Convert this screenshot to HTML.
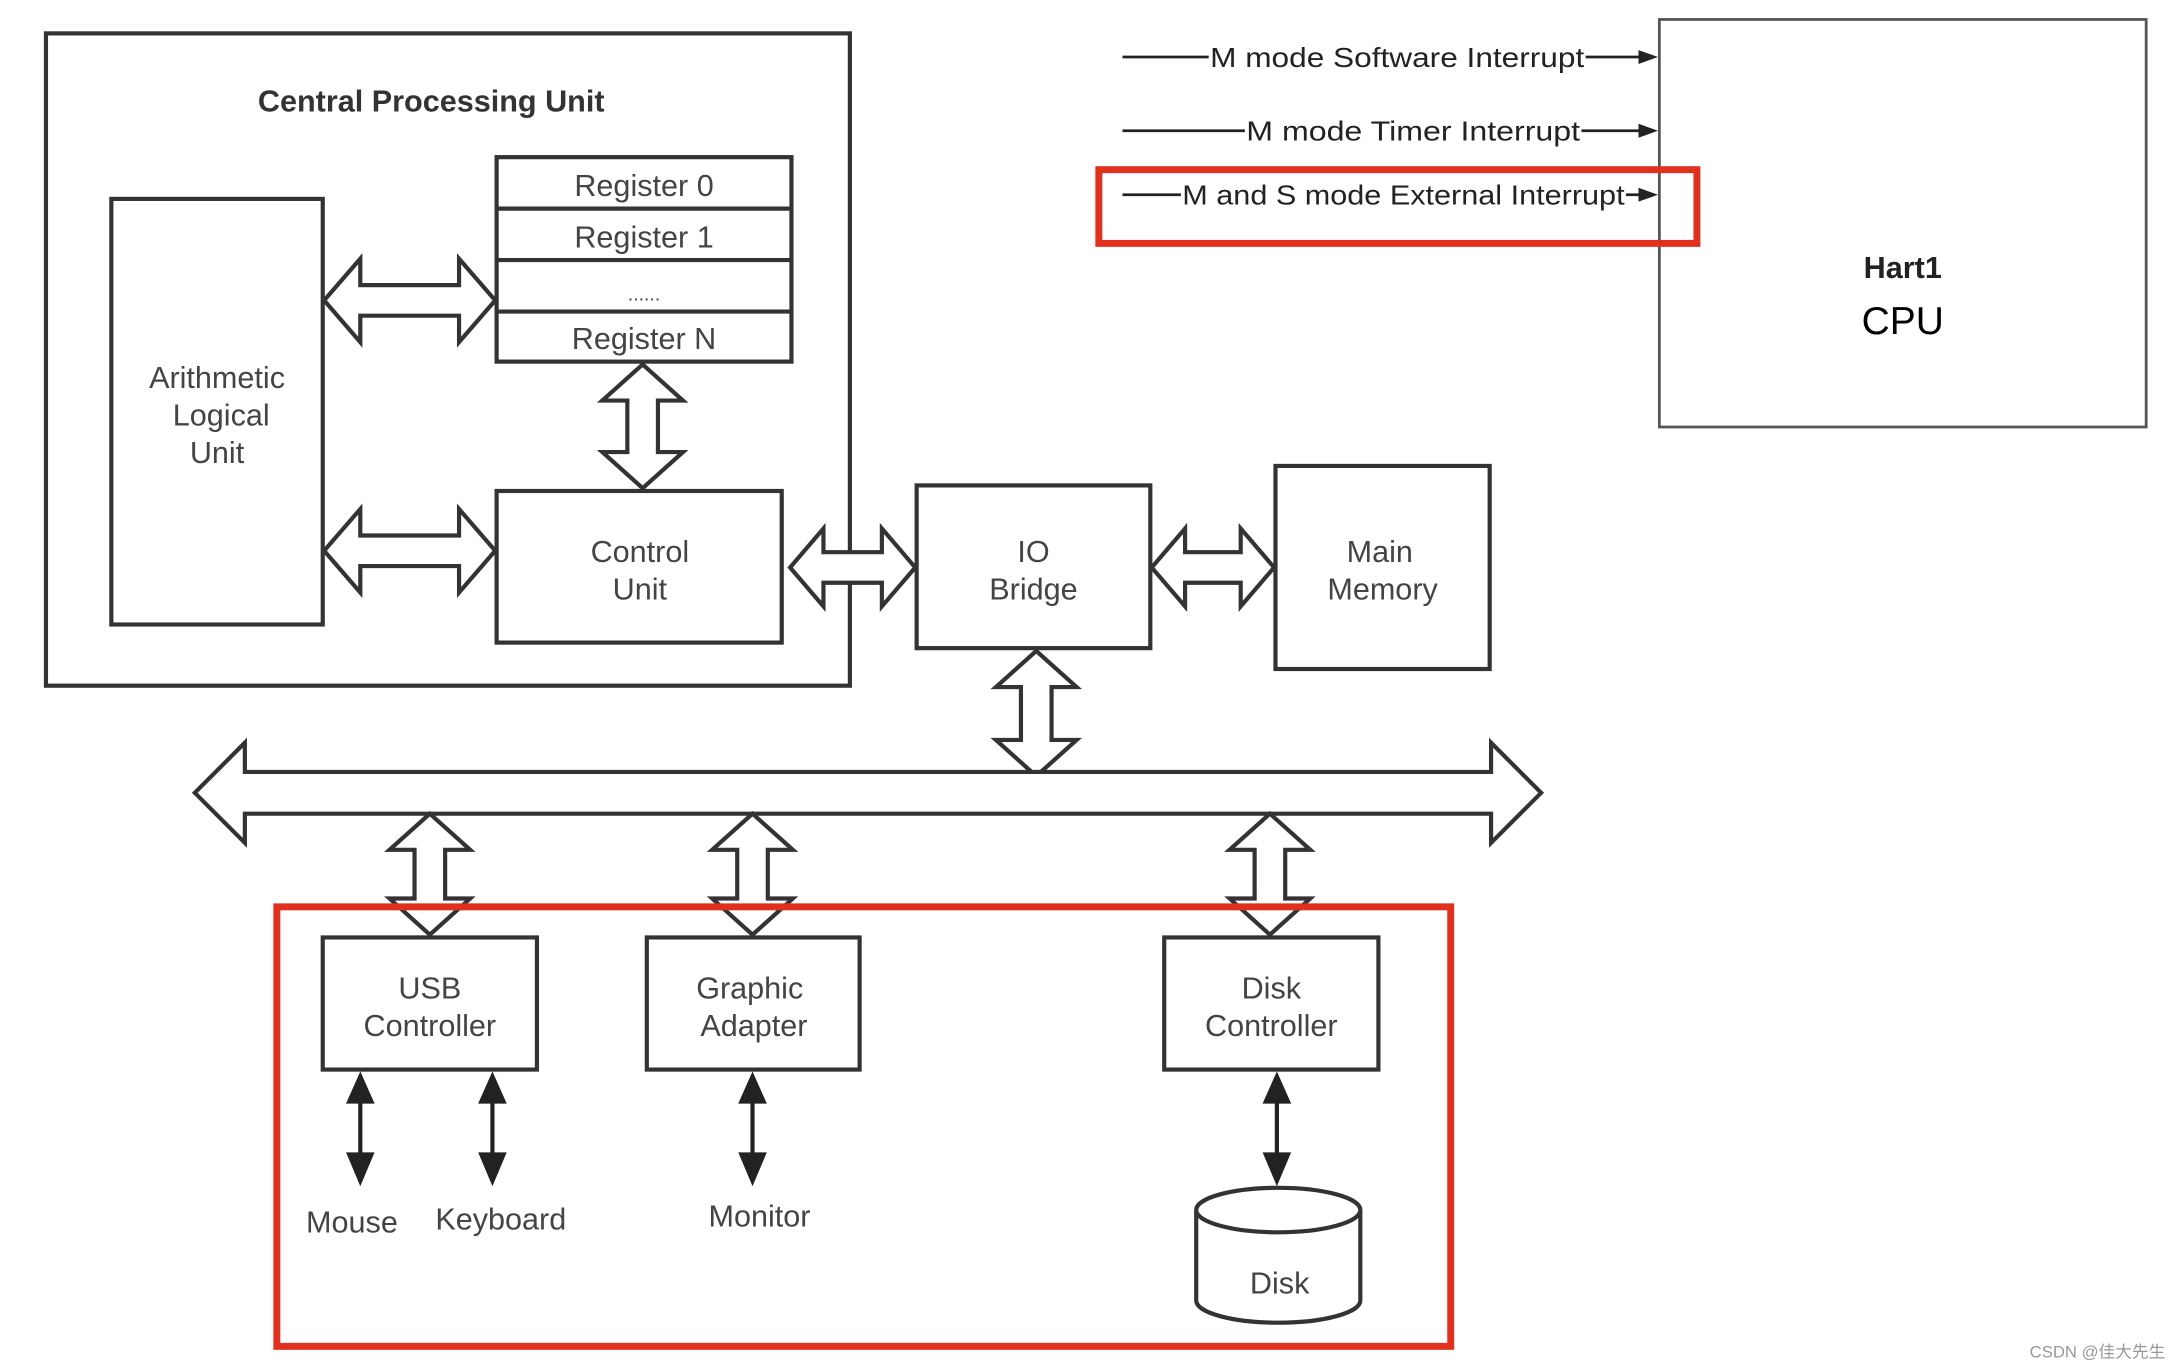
<!DOCTYPE html>
<html><head><meta charset="utf-8"><style>
html,body{margin:0;padding:0;background:#fff;}
svg{display:block;}
text{font-family:"Liberation Sans","Noto Sans CJK SC",sans-serif;fill:#444;}
</style></head><body>
<svg id="s" width="2181" height="1370" viewBox="0 0 1568 985" xmlns="http://www.w3.org/2000/svg">
<g fill="#fff" stroke="#333" stroke-width="3">
<rect x="33" y="24" width="578" height="469"/>
<rect x="80" y="143" width="152" height="306"/>
<rect x="357" y="113" width="212" height="147"/>
<line x1="357" y1="150" x2="569" y2="150"/><line x1="357" y1="187" x2="569" y2="187"/><line x1="357" y1="224" x2="569" y2="224"/>
<rect x="357" y="353" width="205" height="109"/>
<rect x="659" y="349" width="168" height="117"/>
<rect x="917" y="335" width="154" height="146"/>
<rect x="232" y="674" width="154" height="95"/>
<rect x="465" y="674" width="153" height="95"/>
<rect x="837" y="674" width="154" height="95"/>
</g>
<rect x="1193" y="14" width="350" height="293" fill="none" stroke="#555" stroke-width="2"/>
<g id="arrows" fill="#fff" stroke="#333" stroke-width="3" stroke-linejoin="miter"></g>
<path d="M860,870 L860,935 A59,16 0 0 0 978,935 L978,870" fill="#fff" stroke="#333" stroke-width="3"/>
<ellipse cx="919" cy="870" rx="59" ry="16" fill="#fff" stroke="#333" stroke-width="3"/>
<g stroke="#222" stroke-width="3" fill="#222">
<line x1="259" y1="790" x2="259" y2="832"/><path d="M251,792 L259,774 L267,792z M251,830 L259,849 L267,830z"/>
<line x1="354" y1="790" x2="354" y2="832"/><path d="M346,792 L354,774 L362,792z M346,830 L354,849 L362,830z"/>
<line x1="541" y1="790" x2="541" y2="832"/><path d="M533,792 L541,774 L549,792z M533,830 L541,849 L549,830z"/>
<line x1="918" y1="790" x2="918" y2="832"/><path d="M910,792 L918,774 L926,792z M910,830 L918,849 L926,830z"/>
</g>
<g stroke="#222" stroke-width="2">
<line x1="807" y1="41" x2="869" y2="41"/><line x1="1140" y1="41" x2="1182" y2="41"/>
<line x1="807" y1="94" x2="895" y2="94"/><line x1="1137" y1="94" x2="1182" y2="94"/>
<line x1="807" y1="140" x2="849" y2="140"/><line x1="1169" y1="140" x2="1182" y2="140"/>
</g>
<g fill="#222"><path d="M1178,36 L1192,41 L1178,46z"/><path d="M1178,89 L1192,94 L1178,99z"/><path d="M1178,135 L1192,140 L1178,145z"/></g>
<g font-size="20">
<text x="870" y="48" textLength="269" lengthAdjust="spacingAndGlyphs" style="fill:#222">M mode Software Interrupt</text>
<text x="896" y="101" textLength="240" lengthAdjust="spacingAndGlyphs" style="fill:#222">M mode Timer Interrupt</text>
<text x="850" y="147" textLength="318" lengthAdjust="spacingAndGlyphs" style="fill:#222">M and S mode External Interrupt</text>
</g>
<rect x="790" y="122" width="430" height="53" fill="none" stroke="#e0301e" stroke-width="5"/>
<rect x="199" y="652" width="844" height="316" fill="none" stroke="#e0301e" stroke-width="5"/>
<g text-anchor="middle" font-size="22">
<text x="310" y="80" font-weight="bold" style="fill:#333">Central Processing Unit</text>
<text x="156" y="279">Arithmetic</text><text x="159" y="306">Logical</text><text x="156" y="333">Unit</text>
<text x="463" y="141">Register 0</text><text x="463" y="178">Register 1</text><text x="463" y="216" font-size="14">......</text><text x="463" y="251">Register N</text>
<text x="460" y="404">Control</text><text x="460" y="431">Unit</text>
<text x="743" y="404">IO</text><text x="743" y="431">Bridge</text>
<text x="992" y="404">Main</text><text x="994" y="431">Memory</text>
<text x="309" y="718">USB</text><text x="309" y="745">Controller</text>
<text x="539" y="718">Graphic</text><text x="542" y="745">Adapter</text>
<text x="914" y="718">Disk</text><text x="914" y="745">Controller</text>
<text x="253" y="886">Mouse</text><text x="360" y="884">Keyboard</text><text x="546" y="882">Monitor</text>
<text x="920" y="930">Disk</text>
<text x="1368" y="200" font-weight="bold" style="fill:#222">Hart1</text>
<text x="1368" y="240" font-size="28" style="fill:#000">CPU</text>
</g>
<text x="1508" y="976" font-size="12" text-anchor="middle" style="fill:#999">CSDN @佳大先生</text>
</svg>
<script>
var g=document.getElementById('arrows');
function H(x1,x2,y,s,h,L){var p=[[x1,y],[x1+L,y-h],[x1+L,y-s],[x2-L,y-s],[x2-L,y-h],[x2,y],[x2-L,y+h],[x2-L,y+s],[x1+L,y+s],[x1+L,y+h]];add(p);}
function V(x,y1,y2,s,h,L){var p=[[x,y1],[x+h,y1+L],[x+s,y1+L],[x+s,y2-L],[x+h,y2-L],[x,y2],[x-h,y2-L],[x-s,y2-L],[x-s,y1+L],[x-h,y1+L]];add(p);}
function add(p){var e=document.createElementNS('http://www.w3.org/2000/svg','polygon');e.setAttribute('points',p.map(function(a){return a.join(',')}).join(' '));g.appendChild(e);}
H(233,356,216,11,30,26);
H(233,356,396,11,30,26);
H(568,658,408,11,28,24);
H(828,916,408,11,28,24);
V(462,262,351,11,29,26);
V(745,468,558,11,29,26);
H(140,1108,570,15,36,36);
V(309,585,672,11,29,26);
V(541,585,672,11,29,26);
V(913,585,672,11,29,26);
</script>
</body></html>
